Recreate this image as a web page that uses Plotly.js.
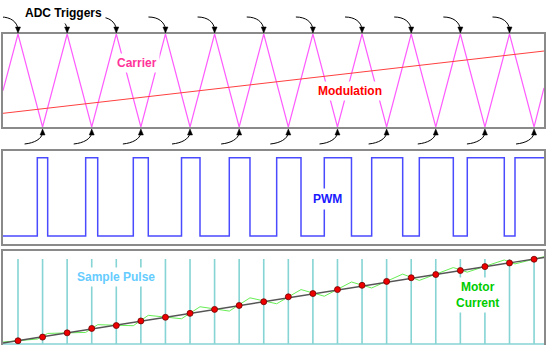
<!DOCTYPE html>
<html><head><meta charset="utf-8">
<script src="https://cdn.plot.ly/plotly-3.0.1.min.js"></script>
<style>html,body{margin:0;padding:0;background:#fff}#chart{width:550px;height:353px}</style>
</head><body><div id="chart"></div>
<script>
// time unit = one carrier period (peaks at integer times)
const carrierT = [-0.305,0,0.5,1,1.5,2,2.5,3,3.5,4,4.5,5,5.5,6,6.5,7,7.5,8,8.5,9,9.5,10,10.5,10.702];
const carrierV = [0.39,1,0,1,0,1,0,1,0,1,0,1,0,1,0,1,0,1,0,1,0,1,0,0.42];
const modT = [-0.305, 10.702];
const modV = [0.147, 0.817];
const pwmT = [-0.305,0.393,0.604,1.377,1.622,2.346,2.651,3.327,3.703,4.299,4.720,5.263,5.758,6.232,6.785,7.196,7.827,8.165,8.857,9.141,9.894,10.112,10.702];
const pwmV = [0,1,0,1,0,1,0,1,0,1,0,1,0,1,0,1,0,1,0,1,0,1,1];
const sampleT = [0,0.5,1,1.5,2,2.5,3,3.5,4,4.5,5,5.5,6,6.5,7,7.5,8,8.5,9,9.5,10,10.5];
const sampleI = [0.038,0.081,0.131,0.183,0.217,0.271,0.314,0.360,0.407,0.453,0.497,0.555,0.593,0.640,0.690,0.736,0.779,0.817,0.864,0.910,0.953,0.997];
const avgT = [-0.305, 10.702];
const avgI = [0.012, 1.018];
const rippleT = [-0.305,0.393,0.604,1.377,1.622,2.346,2.651,3.327,3.703,4.299,4.720,5.263,5.758,6.232,6.785,7.196,7.827,8.165,8.857,9.141,9.894,10.112,10.702];
const rippleI = [0.023,0.058,0.124,0.136,0.227,0.215,0.337,0.297,0.438,0.387,0.543,0.473,0.640,0.562,0.729,0.659,0.822,0.748,0.899,0.845,0.988,0.942,1.027];
const labels = {adc:'ADC Triggers', carrier:'Carrier', mod:'Modulation', pwm:'PWM', pulse:'Sample Pulse', motor:'Motor<br>Current'};

const xRange = [-0.305, 10.702];
const dom1 = [0.701, 1], dom2 = [0.3248, 0.6238], dom3 = [0, 0.3023];

// ADC trigger times from carrier extremes
const peaks = carrierT.filter((t,i)=>carrierV[i]===1);
const troughs = carrierT.filter((t,i)=>carrierV[i]===0);

// pulse train built from sample times
const pulseX = [xRange[0]], pulseY = [0];
sampleT.forEach(s=>{pulseX.push(s,s,s); pulseY.push(0,1,0);});
pulseX.push(xRange[1]); pulseY.push(0);

const traces = [
  {x:carrierT, y:carrierV, xaxis:'x', yaxis:'y', mode:'lines', line:{color:'#ff5cff', width:1.2}, hoverinfo:'skip'},
  {x:modT, y:modV, xaxis:'x', yaxis:'y', mode:'lines', line:{color:'#ff4040', width:1}, hoverinfo:'skip'},
  {x:pwmT, y:pwmV, xaxis:'x2', yaxis:'y2', mode:'lines', line:{color:'#4a4aff', width:1.5, shape:'hv'}, hoverinfo:'skip'},
  {x:pulseX, y:pulseY, xaxis:'x3', yaxis:'y3', mode:'lines', line:{color:'#86d4d4', width:1.6}, hoverinfo:'skip'},
  {x:rippleT, y:rippleI, xaxis:'x3', yaxis:'y3', mode:'lines', line:{color:'#66ee55', width:1}, hoverinfo:'skip'},
  {x:avgT, y:avgI, xaxis:'x3', yaxis:'y3', mode:'lines', line:{color:'#555555', width:1.4}, hoverinfo:'skip'},
  {x:sampleT, y:sampleI, xaxis:'x3', yaxis:'y3', mode:'markers', marker:{color:'#ee0000', size:6, line:{color:'#700000', width:0.8}}, hoverinfo:'skip', cliponaxis:false}
];

const baseAx = {showgrid:false, zeroline:false, showticklabels:false, ticks:'', showline:true, mirror:true, linecolor:'#8a8a8a', linewidth:2, fixedrange:true};

const shapes = [];
peaks.forEach(t=>{
  shapes.push({type:'path', xref:'x', yref:'paper', xsizemode:'pixel', ysizemode:'pixel', xanchor:t, yanchor:dom1[1], path:'M -17 17 C -7 17 -1 12 0 5', line:{color:'#000', width:1}, layer:'above'});
  shapes.push({type:'path', xref:'x', yref:'paper', xsizemode:'pixel', ysizemode:'pixel', xanchor:t, yanchor:dom1[1], path:'M 0 1 L -2.5 7 L 2.5 7 Z', fillcolor:'#000', line:{color:'#000', width:0.5}, layer:'above'});
});
troughs.forEach(t=>{
  shapes.push({type:'path', xref:'x', yref:'paper', xsizemode:'pixel', ysizemode:'pixel', xanchor:t, yanchor:dom1[0], path:'M -18 -17 C -8 -16 -1 -12 0 -6', line:{color:'#000', width:1}, layer:'above'});
  shapes.push({type:'path', xref:'x', yref:'paper', xsizemode:'pixel', ysizemode:'pixel', xanchor:t, yanchor:dom1[0], path:'M 0 -2 L -2.5 -8 L 2.5 -8 Z', fillcolor:'#000', line:{color:'#000', width:0.5}, layer:'above'});
});

const fnt = (c)=>({family:'Liberation Sans, Arial, sans-serif', size:12, color:c});
const annotations = [
  {text:'<b>'+labels.adc+'</b>', xref:'x', yref:'paper', x:0.926, y:1.0675, xanchor:'center', yanchor:'middle', showarrow:false, font:fnt('#000000'), bgcolor:'#ffffff', borderpad:3},
  {text:'<b>'+labels.carrier+'</b>', xref:'x', yref:'y', x:2.421, y:0.688, xanchor:'center', yanchor:'middle', showarrow:false, font:fnt('#ff3399'), bgcolor:'#ffffff', borderpad:2},
  {text:'<b>'+labels.mod+'</b>', xref:'x', yref:'y', x:6.755, y:0.39, xanchor:'center', yanchor:'middle', showarrow:false, font:fnt('#ff0000'), bgcolor:'#ffffff', borderpad:2},
  {text:'<b>'+labels.pwm+'</b>', xref:'x2', yref:'y2', x:6.307, y:0.476, xanchor:'center', yanchor:'middle', showarrow:false, font:fnt('#1a1aff'), bgcolor:'#ffffff', borderpad:3},
  {text:'<b>'+labels.pulse+'</b>', xref:'x3', yref:'y3', x:1.988, y:0.787, xanchor:'center', yanchor:'middle', showarrow:false, font:fnt('#66ccff'), bgcolor:'#ffffff', borderpad:2},
  {text:'<b>'+labels.motor+'</b>', xref:'x3', yref:'y3', x:9.359, y:0.581, xanchor:'center', yanchor:'middle', showarrow:false, font:fnt('#00cc00'), bgcolor:'#ffffff', borderpad:2}
];

const layout = {
  width:550, height:353, margin:{l:3, r:6, t:34, b:8},
  paper_bgcolor:'#ffffff', plot_bgcolor:'#ffffff', showlegend:false,
  xaxis: Object.assign({}, baseAx, {range:xRange, anchor:'y', domain:[0,1]}),
  yaxis: Object.assign({}, baseAx, {range:[0,1], anchor:'x', domain:dom1}),
  xaxis2: Object.assign({}, baseAx, {range:xRange, anchor:'y2', domain:[0,1]}),
  yaxis2: Object.assign({}, baseAx, {range:[-0.102,1.086], anchor:'x2', domain:dom2}),
  xaxis3: Object.assign({}, baseAx, {range:xRange, anchor:'y3', domain:[0,1], side:'top', mirror:false}),
  yaxis3: Object.assign({}, baseAx, {range:[-0.012,1.094], anchor:'x3', domain:dom3}),
  shapes: shapes, annotations: annotations
};

Plotly.newPlot('chart', traces, layout, {staticPlot:true, displayModeBar:false});
</script>
</body></html>
